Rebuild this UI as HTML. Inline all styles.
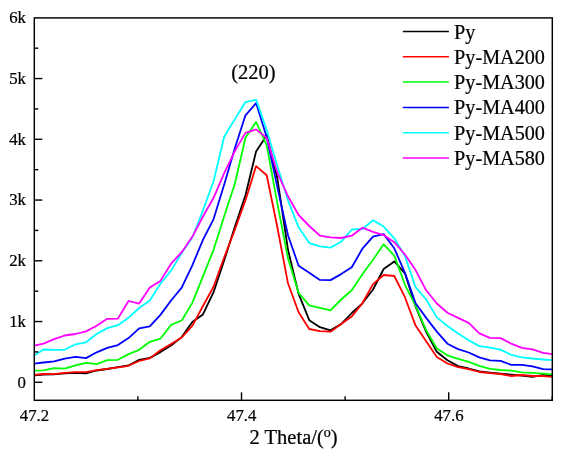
<!DOCTYPE html>
<html><head><meta charset="utf-8"><style>
html,body{margin:0;padding:0;background:#fff;}
svg{display:block;}
text{font-family:"Liberation Serif","Times New Roman",serif;fill:#000;stroke:#000;stroke-width:0.22px;}
</style></head><body>
<svg width="562" height="456" viewBox="0 0 562 456">
<rect width="562" height="456" fill="#fff"/>
<g fill="none" stroke-width="1.8" stroke-linejoin="round" stroke-linecap="butt">
<polyline points="34.30,375.30 43.50,374.50 54.13,374.30 64.76,373.30 75.39,372.90 86.02,373.30 96.65,370.50 107.28,369.00 117.91,367.10 128.54,365.50 139.17,359.90 149.80,357.90 160.43,352.10 171.06,345.60 181.69,337.10 192.32,322.10 202.95,314.40 213.58,292.20 224.21,260.30 234.84,226.80 245.47,195.30 256.10,151.40 266.73,135.30 277.36,178.30 287.99,249.80 298.62,293.90 309.25,320.20 319.88,327.20 330.51,330.30 341.14,324.10 351.77,313.00 362.40,303.30 373.03,289.50 383.66,269.00 394.29,261.40 404.92,273.30 415.55,306.40 426.18,331.80 436.81,351.80 447.44,360.20 458.07,366.10 468.70,368.50 479.33,371.40 489.96,372.60 500.59,373.70 511.22,374.60 521.85,375.60 532.48,376.90 543.11,375.00 552.30,376.00" stroke="#000000"/>
<polyline points="34.30,374.90 43.50,374.00 54.13,374.10 64.76,372.80 75.39,372.10 86.02,372.20 96.65,370.20 107.28,368.80 117.91,367.30 128.54,365.80 139.17,361.00 149.80,358.40 160.43,350.20 171.06,344.10 181.69,337.50 192.32,325.90 202.95,306.00 213.58,286.80 224.21,257.30 234.84,229.80 245.47,200.30 256.10,166.10 266.73,175.30 277.36,227.30 287.99,283.30 298.62,312.30 309.25,329.00 319.88,331.10 330.51,331.70 341.14,324.10 351.77,316.40 362.40,303.30 373.03,284.10 383.66,275.00 394.29,276.00 404.92,297.20 415.55,325.60 426.18,341.30 436.81,356.90 447.44,363.50 458.07,367.10 468.70,369.10 479.33,372.00 489.96,373.10 500.59,374.00 511.22,376.00 521.85,375.00 532.48,376.00 543.11,376.00 552.30,376.90" stroke="#ff0000"/>
<polyline points="34.30,370.60 43.50,370.40 54.13,368.20 64.76,368.60 75.39,365.30 86.02,362.90 96.65,364.20 107.28,360.10 117.91,359.80 128.54,354.10 139.17,349.80 149.80,341.80 160.43,338.70 171.06,324.90 181.69,320.50 192.32,302.90 202.95,276.30 213.58,249.80 224.21,216.30 234.84,183.80 245.47,137.80 256.10,122.00 266.73,145.30 277.36,203.30 287.99,258.30 298.62,293.00 309.25,305.30 319.88,307.90 330.51,310.40 341.14,299.50 351.77,290.30 362.40,274.30 373.03,259.80 383.66,244.30 394.29,255.60 404.92,284.80 415.55,305.60 426.18,330.30 436.81,348.50 447.44,355.30 458.07,358.90 468.70,361.90 479.33,365.80 489.96,368.80 500.59,370.00 511.22,370.70 521.85,372.40 532.48,372.90 543.11,373.70 552.30,374.30" stroke="#00ff00"/>
<polyline points="34.30,363.70 43.50,362.50 54.13,361.40 64.76,358.60 75.39,356.80 86.02,358.10 96.65,352.30 107.28,347.90 117.91,345.10 128.54,338.10 139.17,328.40 149.80,326.40 160.43,314.90 171.06,300.50 181.69,287.60 192.32,265.40 202.95,239.80 213.58,219.10 224.21,184.60 234.84,148.30 245.47,115.30 256.10,103.10 266.73,137.30 277.36,187.10 287.99,235.20 298.62,265.80 309.25,272.80 319.88,279.90 330.51,280.10 341.14,274.10 351.77,267.20 362.40,248.70 373.03,236.70 383.66,234.10 394.29,248.30 404.92,272.80 415.55,303.30 426.18,317.90 436.81,331.60 447.44,343.70 458.07,349.10 468.70,352.50 479.33,357.40 489.96,360.40 500.59,360.80 511.22,364.80 521.85,364.80 532.48,366.40 543.11,369.10 552.30,369.40" stroke="#0000ff"/>
<polyline points="34.30,355.40 43.50,349.50 54.13,349.80 64.76,349.80 75.39,344.30 86.02,342.30 96.65,334.00 107.28,328.10 117.91,325.20 128.54,317.70 139.17,308.00 149.80,300.60 160.43,283.70 171.06,270.60 181.69,253.00 192.32,237.50 202.95,210.50 213.58,181.30 224.21,136.80 234.84,119.10 245.47,102.10 256.10,99.80 266.73,130.00 277.36,166.10 287.99,200.30 298.62,227.30 309.25,243.10 319.88,246.30 330.51,247.60 341.14,241.80 351.77,229.50 362.40,229.00 373.03,220.30 383.66,226.60 394.29,238.30 404.92,256.00 415.55,287.20 426.18,299.50 436.81,317.40 447.44,326.00 458.07,333.40 468.70,340.20 479.33,346.10 489.96,347.70 500.59,349.60 511.22,354.90 521.85,357.30 532.48,358.50 543.11,359.50 552.30,360.20" stroke="#00ffff"/>
<polyline points="34.30,345.70 43.50,343.60 54.13,339.10 64.76,335.50 75.39,334.00 86.02,331.40 96.65,325.80 107.28,318.80 117.91,318.60 128.54,301.00 139.17,303.60 149.80,287.50 160.43,280.90 171.06,263.70 181.69,252.20 192.32,236.80 202.95,216.50 213.58,197.80 224.21,173.10 234.84,151.10 245.47,132.90 256.10,129.40 266.73,138.00 277.36,172.70 287.99,196.30 298.62,215.00 309.25,226.00 319.88,235.60 330.51,237.30 341.14,238.00 351.77,235.70 362.40,227.70 373.03,231.80 383.66,235.10 394.29,242.20 404.92,254.50 415.55,270.10 426.18,290.30 436.81,303.50 447.44,312.70 458.07,317.90 468.70,322.90 479.33,333.40 489.96,337.80 500.59,338.10 511.22,343.70 521.85,347.90 532.48,349.30 543.11,352.90 552.30,354.20" stroke="#ff00ff"/>
</g>
<rect x="34.3" y="17.9" width="518.00" height="382.40" fill="none" stroke="#000" stroke-width="1.45"/>
<g stroke="#000" stroke-width="1.4">
<line x1="34.3" y1="382.30" x2="42.3" y2="382.30"/>
<line x1="34.3" y1="321.55" x2="42.3" y2="321.55"/>
<line x1="34.3" y1="260.80" x2="42.3" y2="260.80"/>
<line x1="34.3" y1="200.05" x2="42.3" y2="200.05"/>
<line x1="34.3" y1="139.30" x2="42.3" y2="139.30"/>
<line x1="34.3" y1="78.55" x2="42.3" y2="78.55"/>
<line x1="34.3" y1="351.93" x2="38.3" y2="351.93"/>
<line x1="34.3" y1="291.18" x2="38.3" y2="291.18"/>
<line x1="34.3" y1="230.43" x2="38.3" y2="230.43"/>
<line x1="34.3" y1="169.68" x2="38.3" y2="169.68"/>
<line x1="34.3" y1="108.93" x2="38.3" y2="108.93"/>
<line x1="34.3" y1="48.18" x2="38.3" y2="48.18"/>
<line x1="137.90" y1="400.3" x2="137.90" y2="396.3"/>
<line x1="241.50" y1="400.3" x2="241.50" y2="392.3"/>
<line x1="345.10" y1="400.3" x2="345.10" y2="396.3"/>
<line x1="448.70" y1="400.3" x2="448.70" y2="392.3"/>
<line x1="552.30" y1="400.3" x2="552.30" y2="396.3"/>
</g>
<g font-size="16.8">
<text x="26" y="387.50" text-anchor="end">0</text>
<text x="26" y="326.75" text-anchor="end">1k</text>
<text x="26" y="266.00" text-anchor="end">2k</text>
<text x="26" y="205.25" text-anchor="end">3k</text>
<text x="26" y="144.50" text-anchor="end">4k</text>
<text x="26" y="83.75" text-anchor="end">5k</text>
<text x="26" y="23.00" text-anchor="end">6k</text>
<text x="34.50" y="421.4" text-anchor="middle">47.2</text>
<text x="241.70" y="421.4" text-anchor="middle">47.4</text>
<text x="448.90" y="421.4" text-anchor="middle">47.6</text>
</g>
<g font-size="20">
<line x1="402.8" y1="31.50" x2="448.9" y2="31.50" stroke="#000000" stroke-width="1.5"/>
<text x="454.1" y="38.50" font-size="20.2">Py</text>
<line x1="402.8" y1="56.80" x2="448.9" y2="56.80" stroke="#ff0000" stroke-width="1.5"/>
<text x="454.1" y="63.80" font-size="20.2">Py-MA200</text>
<line x1="402.8" y1="82.10" x2="448.9" y2="82.10" stroke="#00ff00" stroke-width="1.5"/>
<text x="454.1" y="89.10" font-size="20.2">Py-MA300</text>
<line x1="402.8" y1="107.40" x2="448.9" y2="107.40" stroke="#0000ff" stroke-width="1.5"/>
<text x="454.1" y="114.40" font-size="20.2">Py-MA400</text>
<line x1="402.8" y1="132.70" x2="448.9" y2="132.70" stroke="#00ffff" stroke-width="1.5"/>
<text x="454.1" y="139.70" font-size="20.2">Py-MA500</text>
<line x1="402.8" y1="158.00" x2="448.9" y2="158.00" stroke="#ff00ff" stroke-width="1.5"/>
<text x="454.1" y="165.00" font-size="20.2">Py-MA580</text>
<text x="253.5" y="78.8" font-size="20.5" text-anchor="middle">(220)</text>
<text x="293.6" y="443.6" font-size="20.5" text-anchor="middle">2 Theta/(<tspan font-size="14" dy="-7">o</tspan><tspan dy="7">)</tspan></text>
</g>
</svg>
</body></html>
